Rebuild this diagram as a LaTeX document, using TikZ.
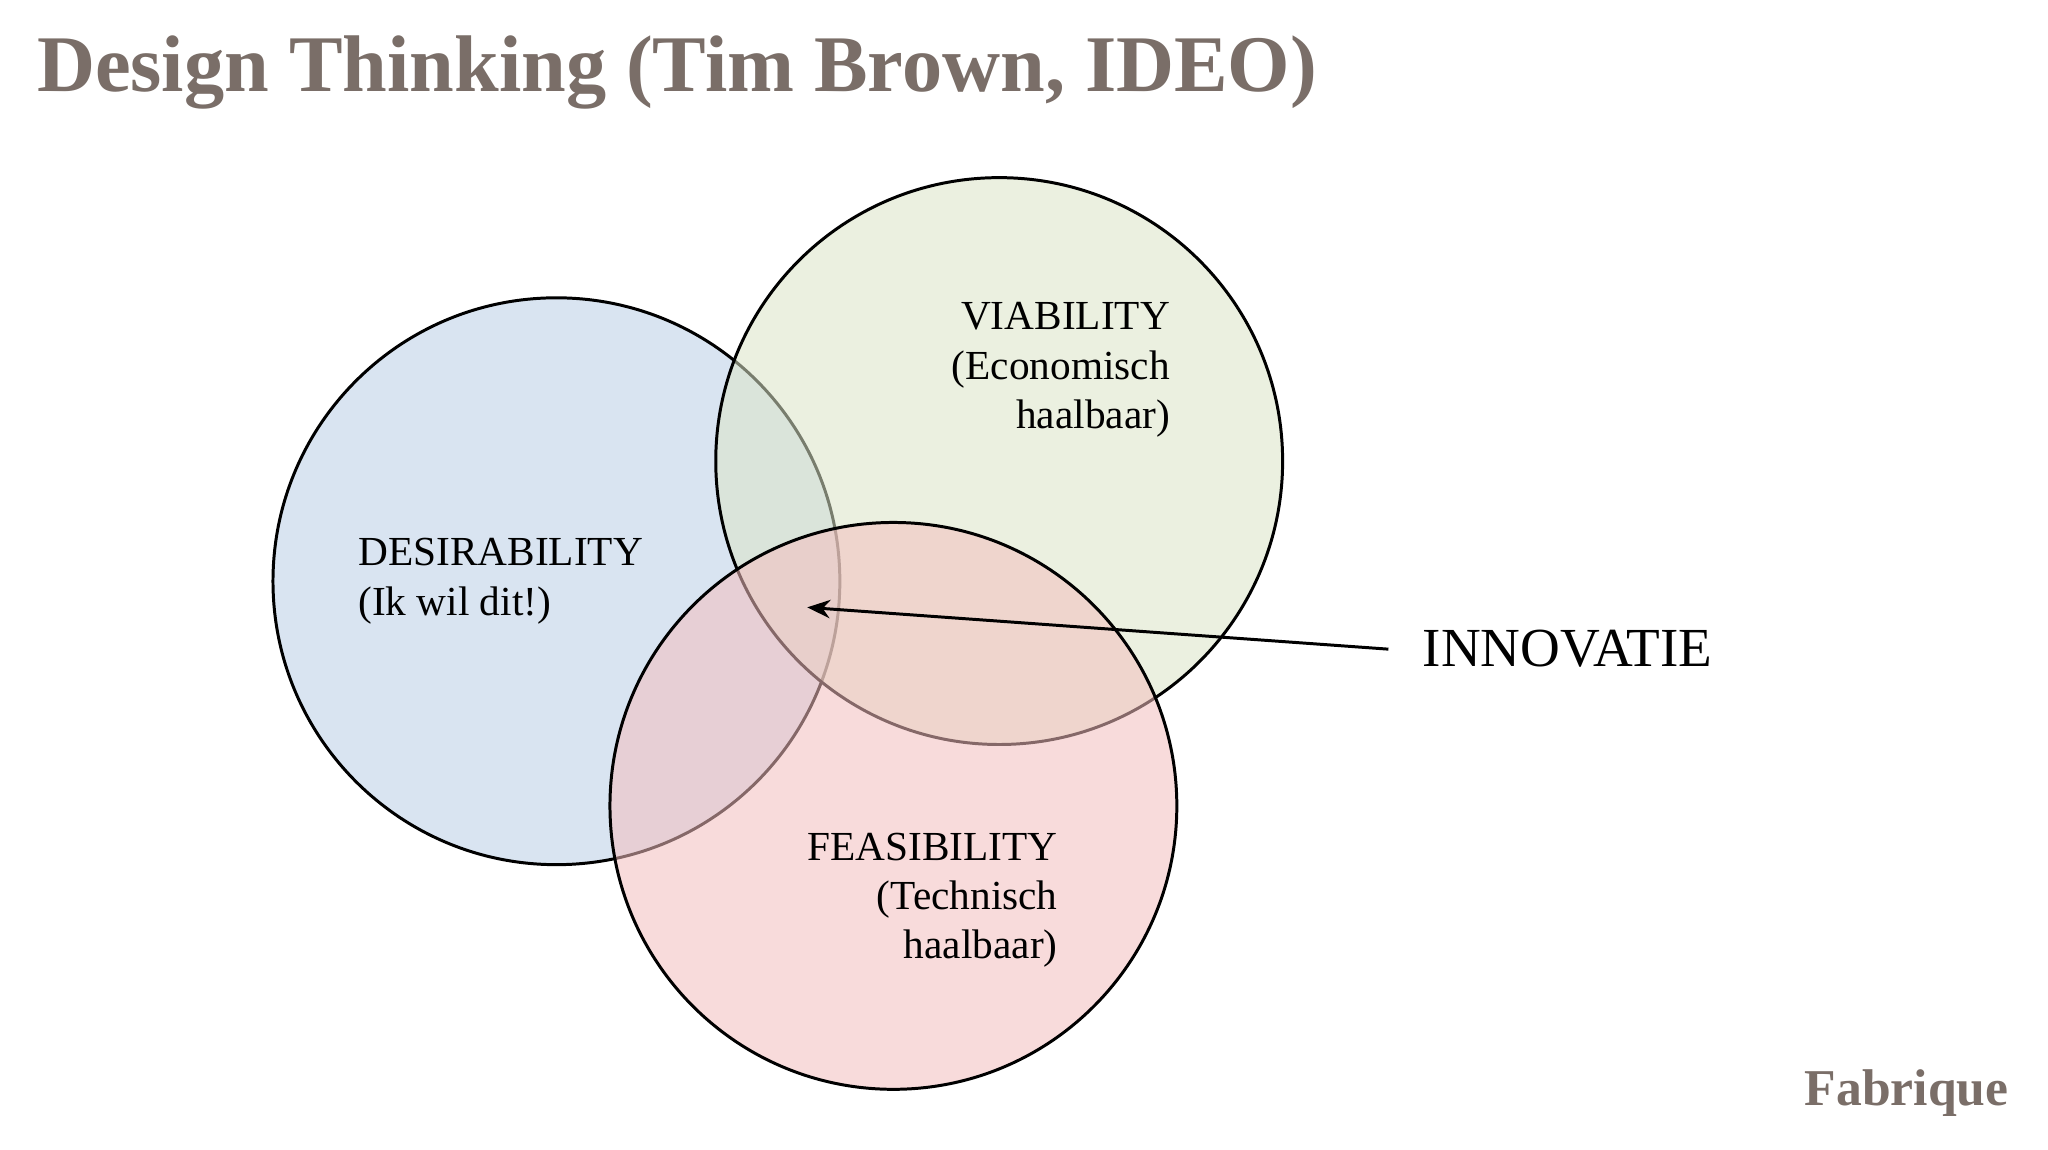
\documentclass[tikz,border=0pt]{standalone}
\usetikzlibrary{arrows.meta}
\usepackage{fontspec}
\setmainfont{Liberation Serif}
\definecolor{titlec}{RGB}{122,110,104}
\definecolor{cblue}{RGB}{186,206,231}
\definecolor{cgreen}{RGB}{219,228,200}
\definecolor{cred}{RGB}{244,191,191}
\begin{document}
\begin{tikzpicture}[x=0.02cm,y=-0.02cm,
  venn/.style={draw=black,line width=1.3pt,fill opacity=0.55},
  lbl/.style={inner sep=0,font=\fontsize{18}{21.5}\selectfont,text=black}]
\fill[white] (0,0) rectangle (1568,880);
\useasboundingbox (0,0) rectangle (1568,880);
\node[anchor=base west,inner sep=0,text=titlec,font=\fontsize{35}{38}\selectfont\bfseries] (title) at (28,70) {Design Thinking (Tim Brown, IDEO)};
\draw[venn,fill=cblue] (426,445) circle (217);
\draw[venn,fill=cgreen] (765,353) circle (217);
\draw[venn,fill=cred] (684,617) circle (217);
\node[lbl,anchor=base east,align=right] (via) at (896,328) {VIABILITY\\(Economisch\\haalbaar)};
\node[lbl,anchor=base west,align=left] (des) at (274,471) {DESIRABILITY\\(Ik wil dit!)};
\node[lbl,anchor=base east,align=right] (fea) at (810,734) {FEASIBILITY\\(Technisch\\haalbaar)};
\node[inner sep=0,anchor=base west,font=\fontsize{24}{26}\selectfont] (inn) at (1089,510) {INNOVATIE};
\coordinate (tail) at (1063,497);
\coordinate (tip) at (618,465);
\draw[line width=1.3pt,-{Stealth[length=10pt,width=8pt]}] (tail) -- (tip);
\node[inner sep=0,anchor=base east,text=titlec,font=\fontsize{22.5}{24}\selectfont\bfseries] (fab) at (1538,846) {Fabrique};
\end{tikzpicture}
\end{document}
